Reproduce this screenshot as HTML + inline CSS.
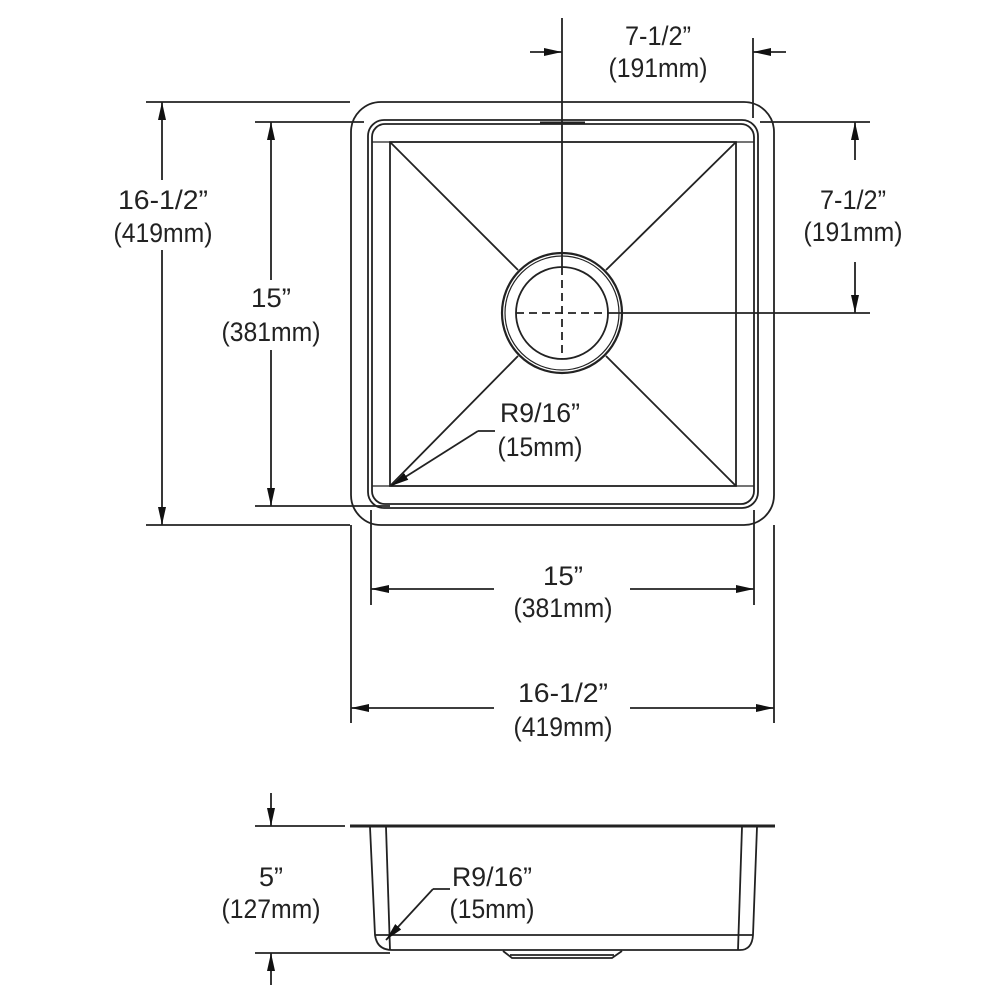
<!DOCTYPE html>
<html><head><style>html,body{margin:0;padding:0;background:#fff}svg{display:block}
text{font-family:"Liberation Sans",sans-serif;font-size:27px;fill:#222;text-anchor:middle}</style></head><body>
<svg width="1000" height="1000" viewBox="0 0 1000 1000" xmlns="http://www.w3.org/2000/svg">
<defs>
<marker id="a" viewBox="0 0 18 8" refX="18" refY="4" markerWidth="18" markerHeight="8" markerUnits="userSpaceOnUse" orient="auto"><path d="M0,0 L18,4 L0,8 Z" fill="#111"/></marker>
</defs>
<g fill="none" stroke="#222" stroke-width="1.8">
<rect x="351" y="102" width="423" height="423" rx="30"/>
<rect x="368" y="120" width="390" height="388" rx="16"/>
<rect x="372" y="124" width="382" height="380" rx="13"/>
<path d="M390,142 H736 V486 H390 Z" />
<line x1="372" y1="142" x2="754" y2="142" stroke-width="1.2"/>
<line x1="372" y1="486" x2="754" y2="486" stroke-width="1.2"/>
<line x1="540" y1="123" x2="585" y2="123" stroke-width="3"/>
<line x1="390" y1="142" x2="518" y2="270"/>
<line x1="736" y1="142" x2="606" y2="270"/>
<line x1="390" y1="486" x2="518" y2="356"/>
<line x1="736" y1="486" x2="606" y2="356"/>
<circle cx="562" cy="313" r="60" stroke-width="2.2"/>
<circle cx="562" cy="313" r="57" stroke-width="1.2"/>
<circle cx="562" cy="313" r="46"/>
<line x1="516" y1="313" x2="608" y2="313" stroke-dasharray="8,5"/>
<line x1="562" y1="267" x2="562" y2="359" stroke-dasharray="8,5"/>
<line x1="562" y1="18" x2="562" y2="267"/>
<line x1="753" y1="38" x2="753" y2="118"/>
<line x1="530" y1="52" x2="562" y2="52" marker-end="url(#a)"/>
<line x1="786" y1="52" x2="753" y2="52" marker-end="url(#a)"/>
<line x1="760" y1="122" x2="870" y2="122"/>
<line x1="608" y1="313" x2="870" y2="313"/>
<line x1="855" y1="160" x2="855" y2="122" marker-end="url(#a)"/>
<line x1="855" y1="262" x2="855" y2="313" marker-end="url(#a)"/>
<line x1="146" y1="102" x2="350" y2="102"/>
<line x1="146" y1="525" x2="350" y2="525"/>
<line x1="162" y1="180" x2="162" y2="102" marker-end="url(#a)"/>
<line x1="162" y1="250" x2="162" y2="525" marker-end="url(#a)"/>
<line x1="255" y1="122" x2="364" y2="122"/>
<line x1="255" y1="506" x2="390" y2="506"/>
<line x1="271" y1="280" x2="271" y2="122" marker-end="url(#a)"/>
<line x1="271" y1="350" x2="271" y2="506" marker-end="url(#a)"/>
<line x1="371" y1="510" x2="371" y2="605"/>
<line x1="754" y1="510" x2="754" y2="605"/>
<line x1="494" y1="589" x2="371" y2="589" marker-end="url(#a)"/>
<line x1="630" y1="589" x2="754" y2="589" marker-end="url(#a)"/>
<line x1="351" y1="525" x2="351" y2="723"/>
<line x1="774" y1="525" x2="774" y2="723"/>
<line x1="494" y1="708" x2="351" y2="708" marker-end="url(#a)"/>
<line x1="630" y1="708" x2="774" y2="708" marker-end="url(#a)"/>
<polyline points="495,431 478,431" />
<line x1="478" y1="431" x2="391" y2="486" marker-end="url(#a)"/>
<line x1="350" y1="826" x2="775" y2="826" stroke-width="3"/>
<path d="M370,827 L375,935 Q377,950 392,950 L740,950 Q752,950 753,935 L757,827"/>
<line x1="386" y1="827" x2="390" y2="950"/>
<line x1="742" y1="827" x2="738" y2="950"/>
<line x1="375" y1="935" x2="753" y2="935"/>
<path d="M503,951 L512,958 L612,958 L622,951"/>
<line x1="510" y1="955" x2="614" y2="955"/>
<line x1="255" y1="826" x2="345" y2="826"/>
<line x1="255" y1="953" x2="390" y2="953"/>
<line x1="271" y1="793" x2="271" y2="826" marker-end="url(#a)"/>
<line x1="271" y1="985" x2="271" y2="953" marker-end="url(#a)"/>
<polyline points="450,889 433,889"/>
<line x1="433" y1="889" x2="386" y2="940" marker-end="url(#a)"/>
</g>
<g>
<text x="658" y="45" textLength="66" lengthAdjust="spacingAndGlyphs">7-1/2”</text>
<text x="658" y="77" textLength="99" lengthAdjust="spacingAndGlyphs">(191mm)</text>
<text x="853" y="209" textLength="66" lengthAdjust="spacingAndGlyphs">7-1/2”</text>
<text x="853" y="241" textLength="99" lengthAdjust="spacingAndGlyphs">(191mm)</text>
<text x="163" y="209" textLength="90" lengthAdjust="spacingAndGlyphs">16-1/2”</text>
<text x="163" y="242" textLength="99" lengthAdjust="spacingAndGlyphs">(419mm)</text>
<text x="271" y="307" textLength="40" lengthAdjust="spacingAndGlyphs">15”</text>
<text x="271" y="341" textLength="99" lengthAdjust="spacingAndGlyphs">(381mm)</text>
<text x="540" y="422" textLength="80" lengthAdjust="spacingAndGlyphs">R9/16”</text>
<text x="540" y="456" textLength="85" lengthAdjust="spacingAndGlyphs">(15mm)</text>
<text x="563" y="585" textLength="40" lengthAdjust="spacingAndGlyphs">15”</text>
<text x="563" y="617" textLength="99" lengthAdjust="spacingAndGlyphs">(381mm)</text>
<text x="563" y="702" textLength="90" lengthAdjust="spacingAndGlyphs">16-1/2”</text>
<text x="563" y="736" textLength="99" lengthAdjust="spacingAndGlyphs">(419mm)</text>
<text x="271" y="886" textLength="24" lengthAdjust="spacingAndGlyphs">5”</text>
<text x="271" y="918" textLength="99" lengthAdjust="spacingAndGlyphs">(127mm)</text>
<text x="492" y="886" textLength="80" lengthAdjust="spacingAndGlyphs">R9/16”</text>
<text x="492" y="918" textLength="85" lengthAdjust="spacingAndGlyphs">(15mm)</text>
</g>
</svg>
</body></html>
